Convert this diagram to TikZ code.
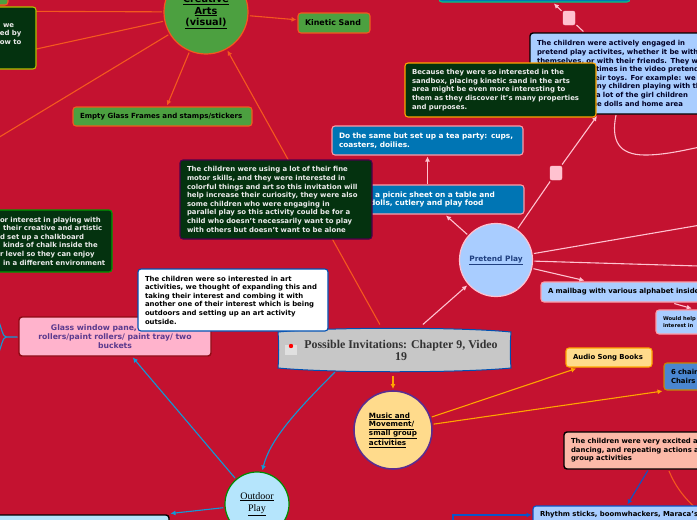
\documentclass[tikz,border=0pt]{standalone}
\usepackage{fontspec}
\setmainfont{DejaVu Sans}
\newfontfamily\serf{Liberation Serif}
\usetikzlibrary{arrows.meta}
\definecolor{bgc}{HTML}{C41230}
\definecolor{dk}{HTML}{04320F}
\definecolor{org}{HTML}{F4581E}
\definecolor{pnk}{HTML}{FFC2D0}
\definecolor{amb}{HTML}{FFA500}
\definecolor{sky}{HTML}{0F9BD8}
\definecolor{rb}{HTML}{0A55C8}
\definecolor{grn}{HTML}{4CA040}
\definecolor{lb}{HTML}{A9CDFF}
\definecolor{teal}{HTML}{0075B4}
\definecolor{yl}{HTML}{FFDB8C}
\definecolor{pale}{HTML}{B5E5FC}
\definecolor{glassfill}{HTML}{FFB3CC}
\definecolor{glassline}{HTML}{8E0A14}
\definecolor{glasstext}{HTML}{5B3A8E}
\definecolor{chairfill}{HTML}{4A86D0}
\definecolor{salmon}{HTML}{FCB9A8}
\definecolor{navy}{HTML}{1F3F80}
\definecolor{ring}{HTML}{5B2D90}
\pgfdeclarelayer{bg}
\pgfsetlayers{bg,main}
\tikzset{
  x=1pt,y=-1pt,
  bx/.style={rectangle,rounded corners=3pt,line width=1.1pt,inner xsep=7pt,inner ysep=0pt,outer sep=1.5pt,align=left,
    font=\fontsize{6.9}{8.6}\selectfont\bfseries},
  darkb/.style={fill=dk,text=white!92!black},
  circ/.style={circle,line width=1.2pt,inner sep=0pt,outer sep=2pt,align=center},
  link/.style={line width=1.1pt},
  arr/.style={link,-{Latex[length=5pt,width=5pt]}},
  tiny/.style={rectangle,rounded corners=2pt,draw=pnk,fill=pnk,minimum width=12pt,minimum height=14pt,inner sep=0pt,outer sep=1.5pt}
}
\newcommand\mybox[7]{\pgfmathsetmacro\cxx{(#3+#5)/2}\pgfmathsetmacro\cyy{(#4+#6)/2}\pgfmathsetmacro\ww{#5-#3-14}\pgfmathsetmacro\hh{#6-#4}\node[bx,#2,text width=\ww pt,minimum height=\hh pt] (#1) at (\cxx,\cyy) {#7};}
\begin{document}
\begin{tikzpicture}
\useasboundingbox (0,0) rectangle (697,520);
% circles
\node[circ,draw=org,fill=grn,minimum size=84pt,font=\fontsize{9.7}{11.4}\selectfont\bfseries] (creative) at (206,12) {\underline{Creative}\\\underline{Arts}\\\underline{(visual)}};
\node[circ,draw=pnk,fill=lb,minimum size=73pt,font=\fontsize{7.4}{8}\selectfont\bfseries,text=navy] (pretend) at (496,260) {\underline{Pretend Play}};
\node[circ,draw=ring,fill=yl,minimum size=78pt,line width=1.6pt,font=\fontsize{7.2}{8.5}\selectfont\bfseries,align=left] (music) at (393,430) {\underline{Music and}\\\underline{Movement/}\\\underline{small group}\\\underline{activities}};
\node[circ,draw=green!55!black,fill=pale,minimum size=64pt,font=\serf\fontsize{10}{12.5}\selectfont] (outdoor) at (257,504) {\underline{Outdoor}\\\underline{Play}};
% boxes
\mybox{topgreen}{draw=org,fill=grn}{-20}{-12}{8}{5}{}
\mybox{topleft}{darkb,draw=amb!70!green}{-7}{7}{36}{69}{\hspace*{3pt}we\\ed by\\ow to\\\mbox{}}
\mybox{kinetic}{draw=org,fill=grn,font=\fontsize{7.9}{9}\selectfont\bfseries}{298}{13}{370}{33}{Kinetic Sand}
\mybox{frames}{draw=org,fill=grn,font=\fontsize{7.05}{8.6}\selectfont\bfseries}{73}{107}{252}{126}{Empty Glass Frames and stamps/stickers}
\mybox{topbox}{draw=sky!60!green,fill=teal}{439}{-32}{630}{2}{}
\mybox{actively}{draw=black,fill=lb,line width=1.4pt,text=black!85!blue}{530}{33}{726}{114}{The children were actively engaged in\\pretend play activites, whether it be with\\themselves, or with their friends. They w\\\hspace*{59pt}times in the video pretend\\\hspace*{50pt}their toys. For example: we\\\hspace*{48pt}many children playing with the\\\hspace*{59pt}a lot of the girl children\\\hspace*{52pt}the dolls and home area}
\mybox{because}{darkb,draw=amb}{405}{63}{596}{117}{Because they were so interested in the\\sandbox, placing kinetic sand in the arts\\area might be even more interesting to\\them as they discover it's many properties\\and purposes.}
\mybox{tea}{draw=pnk!80!red,fill=teal,text=white,font=\fontsize{7.4}{8.9}\selectfont\bfseries}{332}{126}{523}{155}{Do the same but set up a tea party: cups,\\coasters, doilies.}
\mybox{picnic}{draw=pnk!80!red,fill=teal,text=white,font=\fontsize{7.4}{8.9}\selectfont\bfseries}{332}{185}{524}{214}{\hspace*{13pt}Then a picnic sheet on a table and\\\hspace*{13pt}add dolls, cutlery and play food}
\mybox{using}{darkb,draw=violet!60!black}{180}{160}{372}{239}{The children were using a lot of their fine\\motor skills, and they were interested in\\colorful things and art so this invitation will\\help increase their curiosity, they were also\\some children who were engaging in\\parallel play so this activity could be for a\\child who doesn't necessarily want to play\\with others but doesn't want to be alone}
\mybox{leftdark}{darkb,draw=green!60!black}{-7}{210}{112}{272}{or interest in playing with\\\hspace*{3pt}their creative and artistic\\d set up a chalkboard\\\hspace*{3pt}kinds of chalk inside the\\r level so they can enjoy\\\mbox{\hspace*{3pt}in a different environment}}
\mybox{glass}{draw=glassline,fill=glassfill,line width=1.4pt,align=center,text=glasstext,font=\fontsize{7.7}{8.8}\selectfont\bfseries}{19}{317}{211}{356}{Glass window pane, 3-4 small\\rollers/paint rollers/ paint tray/ two\\buckets}
\mybox{mailbag}{draw=pnk!80!red,fill=lb}{541}{282}{727}{302}{A mailbag with various alphabet inside}
\mybox{would}{draw=pnk!80!red,fill=lb,font=\fontsize{5.2}{7.2}\selectfont\bfseries}{656}{310}{822}{334}{Would help\\interest in}
\mybox{audio}{draw=amb,fill=yl}{566}{348}{652}{367}{Audio Song Books}
\mybox{chairs}{draw=amb!80!black,fill=chairfill}{664}{363}{864}{390}{6 chairs\\Chairs}
\mybox{excited}{draw=black,fill=salmon,line width=1.4pt}{564}{432}{756}{469}{The children were very excited a\\dancing, and repeating actions a\\group activities}
\mybox{rhythm}{draw=rb,fill=lb}{533}{506}{709}{524}{\mbox{Rhythm sticks, boomwhackers, Maraca's}}
\mybox{bottomleft}{draw=black,fill=pale,line width=1.4pt}{-7}{515}{169}{540}{}
\node[tiny] (p1) at (556,173) {};
\node[tiny] (p2) at (569,18) {};
\begin{pgfonlayer}{bg}
\fill[bgc] (0,0) rectangle (697,520);
\coordinate (oc1) at (-60,11);
\coordinate (oc2) at (-60,70);
\coordinate (oc3) at (-60,173);
\coordinate (op1) at (800,208);
\coordinate (op2) at (800,269);
\coordinate (cv1) at (616,115);
\coordinate (cv2) at (700,147);
\coordinate (ex1) at (669,471);
\coordinate (ex2) at (700,512);
\coordinate (el1) at (453,525);
\coordinate (ce1) at (335,372);
\coordinate (fk) at (6,337);
\coordinate (fk1) at (-2,320);
\coordinate (fk2) at (-2,354);
\coordinate (ar) at (597,116);
\end{pgfonlayer}
% central topic
\draw[draw=blue!55!cyan!70!black,fill=black!22,line width=1pt] (278,332) .. controls (330,327) and (460,327) .. (511,332) .. controls (510,345) and (510,355) .. (511,368) .. controls (460,373) and (330,373) .. (278,368) .. controls (279,355) and (279,345) .. (278,332) -- cycle;
\fill[white!88!black] (285,345) rectangle (297,355);
\fill[red] (291,346) circle (2.2pt);
\node[font=\serf\fontsize{11.9}{12}\selectfont\bfseries,text=black!80,align=center,inner sep=0pt,outer sep=4pt,minimum width=233pt,minimum height=43pt] (central) at (394,350) {\hspace*{14pt}Possible Invitations: Chapter 9, Video\\\hspace*{14pt}19};
\mybox{white}{draw=blue!55!cyan!70!black,fill=white}{138}{269}{328}{331}{The children were so interested in art\\activities, we thought of expanding this and\\taking their interest and combing it with\\another one of their interest which is being\\outdoors and setting up an art activity\\outside.}
\begin{pgfonlayer}{bg}
% creative links
\draw[link,org] (creative) -- (oc1);
\draw[link,org] (creative) -- (oc2);
\draw[link,org] (creative) -- (oc3);
\draw[arr,org] (creative) -- (kinetic);
\draw[arr,org] (creative) -- (frames);
\draw[arr,org] (central) -- (creative);
% pretend links
\draw[arr,pnk] (central) -- (pretend);
\draw[arr,pnk] (pretend) -- (picnic);
\draw[arr,pnk] (picnic.north-|tea) -- (tea);
\draw[link,pnk] (pretend) -- (p1);
\draw[arr,pnk] (p1) -- (ar);
\draw[link,pnk] (actively) -- (p2);
\draw[arr,pnk] (p2) -- (topbox);
\draw[link,pnk] (pretend) -- (op1);
\draw[link,pnk] (pretend) -- (op2);
\draw[arr,pnk] (pretend) -- (mailbag);
\draw[arr,pnk] (mailbag) -- (would);
\draw[link,pnk] (cv1) .. controls (611,140) and (618,155) .. (645,155) .. controls (665,155) and (685,150) .. (cv2);
% music
\draw[arr,amb] (central.south-|music) -- (music);
\draw[arr,amb] (music) -- (audio);
\draw[arr,amb] (music) -- (chairs);
% outdoor
\draw[arr,sky] (ce1) .. controls (295,412) and (270,440) .. (outdoor.81);
\draw[arr,sky] (outdoor) -- (glass);
\draw[arr,sky] (outdoor) -- (bottomleft.north east);
\draw[link,sky] (glass) -- (fk);
\draw[link,sky] (fk1) .. controls (2,328) and (2,336) .. (fk) .. controls (2,338) and (2,346) .. (fk2);
% rhythm
\draw[arr,rb] (excited) -- (rhythm);
\draw[arr,rb] (el1) |- (rhythm.west);
\draw[link,org] (ex1) .. controls (676,488) and (686,500) .. (ex2);
\end{pgfonlayer}
\end{tikzpicture}
\end{document}
